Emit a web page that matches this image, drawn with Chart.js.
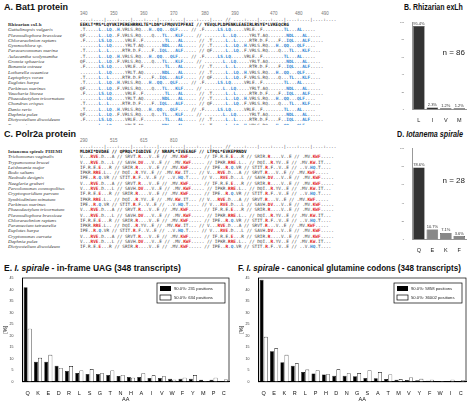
<!DOCTYPE html>
<html><head><meta charset="utf-8">
<script src="https://cdn.jsdelivr.net/npm/chart.js@4"></script>
<style>
body{margin:0;width:474px;height:403px;background:#fff;position:relative;overflow:hidden;font-family:Arial,"Liberation Sans",sans-serif}
.t{position:absolute;font-weight:bold;font-size:9px;color:#111;white-space:nowrap;transform-origin:left top}
.clip{position:absolute;overflow:hidden}
.aln{position:absolute;font-family:"DejaVu Sans Mono",monospace;font-size:4.4px;line-height:5.3px;color:#444;white-space:pre}
.names{position:absolute;font-family:"Liberation Serif",serif;font-style:italic;font-size:5px;line-height:5.3px;color:#333;white-space:pre}
.b{color:#2a7fd0;font-weight:bold}.r{color:#e02020;font-weight:bold}
.box{position:absolute}
</style></head><body>
<div class="t" style="left:4px;top:2px">A. Bat1 protein</div>
<div class="t" style="left:404px;top:2px;transform:scaleX(0.78)">B. Rhizarian exLh</div>
<div class="t" style="left:4px;top:129px">C. Polr2a protein</div>
<div class="t" style="left:397px;top:129px;transform:scaleX(0.8)">D. <i>Iotanema spirale</i></div>
<div class="t" style="left:4px;top:263px;transform:scaleX(0.95)">E. <i>I. spirale</i> - in-frame UAG (348 transcripts)</div>
<div class="t" style="left:238px;top:263px;transform:scaleX(0.9)">F. <i>I. spirale</i> - canonical glutamine codons (348 transcripts)</div>
<div id="alnA" class="clip" style="left:0;top:0;width:396px;height:125px"></div>
<div id="alnC" class="clip" style="left:0;top:126px;width:396px;height:132px"></div>
<div class="box" style="left:400px;top:16px;width:74px;height:108px"><canvas id="cB"></canvas></div>
<div class="box" style="left:400px;top:142px;width:74px;height:112px"><canvas id="cD"></canvas></div>
<div class="box" style="left:2px;top:274px;width:235px;height:129px"><canvas id="cE"></canvas></div>
<div class="box" style="left:238px;top:274px;width:236px;height:129px"><canvas id="cF"></canvas></div>
<script>
// panel B / D
const bCats = ['L', 'I', 'V', 'M'];
const bVals = [95.4, 2.3, 1.2, 1.2];
const dCats = ['Q', 'E', 'K', 'F'];
const dVals = [78.6, 10.7, 7.1, 3.6];

// panel E
const eCats = ['Q','K','E','D','R','L','S','G','T','N','H','A','I','V','W','F','Y','M','P','C'];
const e90 = [41, 8.7, 8.7, 7, 4.7, 3.8, 3.4, 3.4, 3, 2.5, 2.1, 2.1, 1.7, 1.7, 1.3, 1.3, 1.3, 0.9, 0.9, 0];
const e50 = [23, 10.4, 11.7, 6, 6.8, 4.9, 5.5, 3.7, 4.9, 3, 1.8, 3.7, 2.8, 2.4, 0.9, 1.8, 2.9, 0.4, 1.8, 1];

// panel F
const fCats = ['Q','E','K','R','L','P','H','D','N','G','S','A','T','M','V','Y','F','W','I','C'];
const f90 = [44.2, 13.2, 8.5, 7, 4.2, 3.6, 3.2, 2.6, 2.6, 2.4, 1.7, 1.5, 1.2, 0.9, 0.8, 0.7, 0.5, 0.4, 0.3, 0.2];
const f50 = [19.5, 14.5, 11.7, 8, 5.3, 5, 3.3, 5.4, 3.7, 3.8, 5, 4.2, 3.2, 1.2, 1.9, 1.3, 0.9, 0.4, 0.9, 0.7];

const yTicks = [0, 5, 10, 15, 20, 25, 30, 35, 40, 45];

// alignment text (decorative)
const namesA = ['Rhizarian exLh','Guttulinopsis vulgaris','Plasmodiophora brassicae','Chlorarachnion reptans','Gymnochlora sp.','Paracercomonas marina','Aulacantha scolymantha','Gromia sphaerica','Bonamia ostreae','Lotharella oceanica','Leptophrys vorax','Euglotes harpa','Perkinsus marinus','Vaucheria litorea','Phaeodactylum tricornutum','Chondrus crispus','Danio rerio','Daphnia pulex','Dictyostelium discoideum','Prymnesium parvum'];
const namesC = ['Iotanema spirale PHEMI','Trichomonas vaginalis','Trypanosoma brucei','Leishmania major','Bodo saltans','Neobodo designis','Naegleria gruberi','Percolomonas cosmopolitus','Cryptosporidium parvum','Symbiodinium minutum','Perkinsus marinus','Phaeodactylum tricornutum','Plasmodiophora brassicae','Chlorarachnion reptans','Paramecium tetraurelia','Euplotes harpa','Cryptomonas curvata','Daphnia pulex','Dictyostelium discoideum'];
const seqA = ['.T.....{L}..{L}.....RTR.D.F....F..{IQL}...{ALF}.....','.T.....{L}..{LQ}..{H}.VRLS.RQ...{H}..{QQ}...{QLF}....','QF.....{L}..{LQ}..F.VRLS.RQ....Q...{TL}...{KLF}....','.F.....{LS}.{LQ}.....VRLE..F........{TL}...{AL}.....','.......{L}..{LQ}.....YRLT.AQ.......{NDL}...{AL}.....'];
const seqC = ['IPE..[R].{Q}.VR // STIT.[R].F..V..E // ..V.{HQ}.T....','V...[RVE].D...A // SRVT.[R]...V..E // .MV.[KWF].....','V...[RVE].D...L // SAVH.[DV]...V..E // .MV.[KWF].....','IF.R.E.[E]...R // SRIR.[R]....V..E // .MV.[KWF].....','IPKR.[RRE].L.. // DQI..[R].YV..E // .MV.[KW].IT...'];
function fmt(s){return s.replace(/\{([^}]*)\}/g,(m,a)=>'<span class="b">'+a+'</span>').replace(/\[([^\]]*)\]/g,(m,a)=>'<span class="r">'+a+'</span>');}
function buildAln(id, top, names, segs, ruler, head) {
  const el = document.getElementById(id);
  const rows = names.map((n, i) => i === 0 ? head : fmt(segs[i % segs.length] + ' // ' + segs[(i + 2) % segs.length]));
  el.innerHTML = '<div class="aln" style="left:80px;top:' + (top - 11) + 'px;color:#777;font-family:Arial;font-size:4.5px">' + ruler + '</div>' +
    '<div class="names" style="left:8px;top:' + top + 'px">' + names.map((n, i) => i === 0 ? '<b style="font-style:normal">' + n + '</b>' : n).join('\n') + '</div>' +
    '<div class="aln" style="left:80px;top:' + (top - 5.3) + 'px">' + '....:....|....:....|....:....|....:....|....:....|.... // ....:....|....:....|....:....|....:....' + '\n' + rows.join('\n') + '</div>';
}
buildAln('alnA', 22, namesA, seqA, '340                  350                  360                  370                   380                  390                         470              480               490', '<b style="color:#000">EEKLT*MS*LQYVKIPEREHRRKLTE*LDN*LFMQVVIPFKAI // YEVQLPLDPENKLEAEIRLRSYE*LVKEQCRG</b>');
buildAln('alnC', 23, namesC, seqC, '290                  515                  615                  810', '<b style="color:#000">MLDKI*DVDAE // QPRQL*IGDIVE // NRAPL*IVEEAGF // LTPQL*EVKEPRNDV</b>');

// value labels on top of bars
const topLabels = {
  id: 'topLabels',
  afterDatasetsDraw(chart) {
    const ctx = chart.ctx;
    const meta = chart.getDatasetMeta(0);
    ctx.save();
    ctx.font = '4px Arial';
    ctx.fillStyle = '#333';
    ctx.textAlign = 'center';
    meta.data.forEach((bar, i) => {
      ctx.fillText(chart.data.datasets[0].data[i].toFixed(1) + '%', bar.x, bar.y - 1.5);
    });
    ctx.restore();
  }
};

function smallChart(id, cats, vals, colors, n) {
  new Chart(document.getElementById(id), {
    type: 'bar',
    data: { labels: cats, datasets: [{ data: vals, backgroundColor: colors, borderColor: '#222', borderWidth: 0.5, categoryPercentage: 0.9, barPercentage: 0.95 }] },
    options: {
      responsive: true, maintainAspectRatio: false, animation: false,
      layout: { padding: { top: 6, right: 8 } },
      plugins: { legend: { display: false }, tooltip: { enabled: false } },
      scales: {
        x: { grid: { display: false }, border: { color: '#999' }, ticks: { font: { size: 5.5 }, color: '#222', padding: 0, autoSkip: false } },
        y: { min: 0, max: 100, ticks: { stepSize: 20, font: { size: 2.5 }, color: '#666', padding: 0 }, grid: { display: false }, border: { color: '#999' } }
      }
    },
    plugins: [topLabels, {
      id: 'nText',
      afterDraw(chart) {
        const ctx = chart.ctx;
        ctx.save();
        ctx.font = '8px Arial';
        ctx.fillStyle = '#222';
        ctx.textAlign = 'right';
        ctx.fillText('n = ' + n, chart.chartArea.right - 1, chart.chartArea.top + chart.chartArea.height * 0.38);
        ctx.restore();
      }
    }]
  });
}
smallChart('cB', bCats, bVals, '#333', 86);
smallChart('cD', dCats, dVals, ['#333', '#888', '#888', '#888'], 28);

function aaChart(id, cats, s90, s50, l90, l50) {
  new Chart(document.getElementById(id), {
    type: 'bar',
    data: {
      labels: cats,
      datasets: [
        { label: l90, data: s90, backgroundColor: '#000', borderColor: '#000', borderWidth: 0.6, categoryPercentage: 0.8, barPercentage: 0.95 },
        { label: l50, data: s50, backgroundColor: '#fff', borderColor: '#000', borderWidth: 0.6, categoryPercentage: 0.8, barPercentage: 0.95 }
      ]
    },
    options: {
      responsive: true, maintainAspectRatio: false, animation: false,
      layout: { padding: { right: 8, top: 4 } },
      plugins: { legend: { display: false }, tooltip: { enabled: false } },
      scales: {
        x: { grid: { display: false }, border: { color: '#000' }, ticks: { font: { size: 5.5 }, color: '#111', padding: 0, autoSkip: false, maxRotation: 0 },
             title: { display: true, text: 'AA', font: { size: 5.5 }, padding: 0, color: '#111' } },
        y: { min: 0, max: 45, afterBuildTicks: ax => { ax.ticks = yTicks.map(v => ({ value: v })); },
             ticks: { font: { size: 3.5 }, color: '#333', padding: 1 }, grid: { display: false }, border: { color: '#000' },
             title: { display: true, text: '[%]', font: { size: 5.5 }, padding: 0, color: '#111' } }
      }
    },
    plugins: [{
      id: 'frame',
      afterDraw(chart) {
        const { ctx, chartArea: a } = chart;
        ctx.save();
        ctx.strokeStyle = '#000';
        ctx.lineWidth = 0.7;
        ctx.strokeRect(a.left, a.top, a.right - a.left, a.bottom - a.top);
        const lx = a.right - 72, ly = a.top + 5;
        ctx.strokeRect(lx, ly, 68, 20);
        ctx.fillStyle = '#000';
        ctx.fillRect(lx + 3, ly + 3, 11, 5);
        ctx.fillStyle = '#fff';
        ctx.fillRect(lx + 3, ly + 12, 11, 5);
        ctx.strokeRect(lx + 3, ly + 12, 11, 5);
        ctx.fillStyle = '#222';
        ctx.font = '4.2px Arial';
        ctx.textBaseline = 'middle';
        ctx.fillText(l90, lx + 17, ly + 5.5);
        ctx.fillText(l50, lx + 17, ly + 14.5);
        ctx.restore();
      }
    }]
  });
}
aaChart('cE', eCats, e90, e50, '90.0%: 231 positions', '50.0%: 634 positions');
aaChart('cF', fCats, f90, f50, '90.0%: 5858 positions', '50.0%: 36002 positions');
</script>
</body></html>
